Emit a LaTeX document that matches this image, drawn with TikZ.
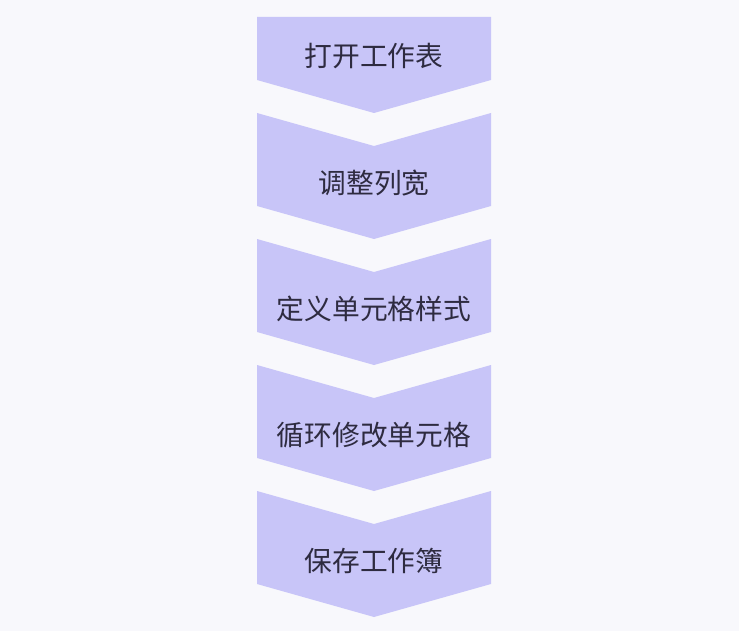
\documentclass[tikz,border=0pt]{standalone}
\usepackage{fontspec}
\newfontfamily\cjk{Noto Sans CJK SC}
\definecolor{bg}{HTML}{F8F8FC}
\definecolor{chev}{HTML}{C8C5F8}
\definecolor{txt}{HTML}{2E2B40}
\tikzset{lbl/.style={font=\cjk\fontsize{20.8}{22}\selectfont, text=txt}}
\begin{document}
\begin{tikzpicture}[x=0.75pt,y=-0.75pt]
\fill[bg] (0,0) rectangle (739,631);
\useasboundingbox (0,0) rectangle (739,631);
\fill[chev] (257,17) -- (491,17) -- (491,80) -- (374,113) -- (257,80) -- cycle;
\node[lbl] (s1) at (374,56) {打开工作表};
\foreach \i/\t in {1/调整列宽,2/定义单元格样式,3/循环修改单元格,4/保存工作簿}{
  \pgfmathsetmacro{\yo}{17+126*\i}
  \fill[chev] (257,\yo-30) -- (374,\yo+3) -- (491,\yo-30) -- (491,\yo+63) -- (374,\yo+96) -- (257,\yo+63) -- cycle;
  \node[lbl] (n\i) at (374,\yo+40) {\t};
}
\end{tikzpicture}
\end{document}
